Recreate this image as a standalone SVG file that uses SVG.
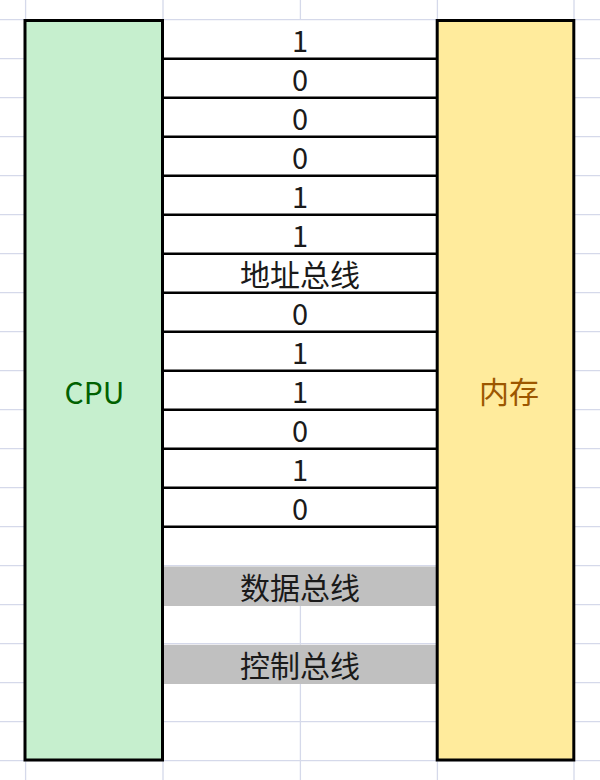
<svg xmlns="http://www.w3.org/2000/svg" width="600" height="780" viewBox="0 0 600 780">
<style>
.grid{stroke:#D5D9EA;stroke-width:1.3;fill:none}
.box{stroke:#000;stroke-width:3}
.bus{stroke:#000;stroke-width:2.5}
.t{font-family:"Noto Sans CJK SC","Noto Sans",sans-serif;font-size:30px;text-anchor:middle;fill:#1a1a1a}
.d{font-size:29px}
.band{fill:#C0C0C0}
</style>
<rect x="0" y="0" width="600" height="780" fill="#fff"/>
<g id="grid" class="grid">
<path d="M0 19.7H600M0 58.7H600M0 97.7H600M0 136.7H600M0 175.7H600M0 214.7H600M0 253.7H600M0 292.7H600M0 331.7H600M0 370.7H600M0 409.7H600M0 448.7H600M0 487.7H600M0 526.7H600M0 565.7H600M0 604.7H600M0 643.7H600M0 682.7H600M0 721.7H600M0 760.7H600"/>
<path d="M25.6 0V780M163 0V780M437.4 0V780M574 0V780"/>
<path d="M300.4 0V19.7M300.4 605.7V644.7M300.4 683.7V780"/>
</g>
<g id="data-bus">
<rect class="band" x="164" y="566.5" width="272" height="39.5"/>
<text class="t" x="300" y="599">数据总线</text>
</g>
<g id="control-bus">
<rect class="band" x="164" y="644.8" width="272" height="39.2"/>
<text class="t" x="300" y="677">控制总线</text>
</g>
<g id="connectors">
<path class="bus" d="M163 58.7H437M163 97.7H437M163 136.7H437M163 175.7H437M163 214.7H437M163 253.7H437M163 292.7H437M163 331.7H437M163 370.7H437M163 409.7H437M163 448.7H437M163 487.7H437M163 526.7H437"/>
</g>
<g id="address-bus">
<text class="t d" x="300" y="52">1</text>
<text class="t d" x="300" y="91">0</text>
<text class="t d" x="300" y="130">0</text>
<text class="t d" x="300" y="169">0</text>
<text class="t d" x="300" y="208">1</text>
<text class="t d" x="300" y="247">1</text>
<text class="t" x="300" y="286">地址总线</text>
<text class="t d" x="300" y="325">0</text>
<text class="t d" x="300" y="364">1</text>
<text class="t d" x="300" y="403">1</text>
<text class="t d" x="300" y="442">0</text>
<text class="t d" x="300" y="481">1</text>
<text class="t d" x="300" y="520">0</text>
</g>
<g id="cpu">
<rect class="box" x="25" y="20.5" width="137.5" height="739.5" fill="#C6EFCE"/>
<text class="t" x="94.5" y="404" style="fill:#006100">CPU</text>
</g>
<g id="memory">
<rect class="box" x="437.2" y="20.5" width="136.6" height="739.5" fill="#FFEB9C"/>
<text class="t" x="509" y="403" style="fill:#9C5700">内存</text>
</g>
</svg>
